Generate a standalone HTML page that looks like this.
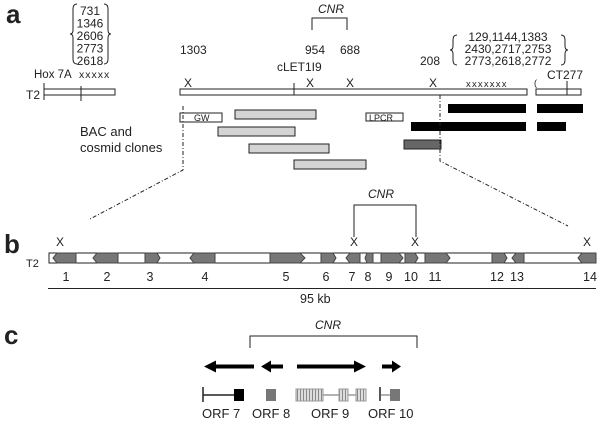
<!DOCTYPE html><html><head><style>body{margin:0;background:#fff}svg{display:block}text{font-family:"Liberation Sans",sans-serif;fill:#222}</style></head><body>
<svg width="600" height="425" viewBox="0 0 600 425" xmlns="http://www.w3.org/2000/svg">
<defs><pattern id="st" width="3" height="10" patternUnits="userSpaceOnUse"><rect width="3" height="10" fill="#ddd"/><rect width="1" height="10" fill="#888"/></pattern></defs>
<g stroke="#222" fill="none" stroke-width="1">
<text x="6" y="23" font-size="26" font-weight="bold" stroke="none">a</text>
<g stroke="none" font-size="12" text-anchor="middle"><text x="90" y="15">731</text><text x="90" y="27.5">1346</text><text x="90" y="40">2606</text><text x="90" y="52.5">2773</text><text x="90" y="65">2618</text></g>
<path d="M77 4 q-4 0 -4 5 v21 q0 4 -3 4 q3 0 3 4 v21 q0 5 4 5"/><path d="M104 4 q4 0 4 5 v21 q0 4 3 4 q-3 0 -3 4 v21 q0 5 -4 5"/>
<text x="34" y="78" font-size="11.5" stroke="none">Hox 7A</text><text x="79" y="78" font-size="10.5" stroke="none" letter-spacing="1">xxxxx</text>
<text x="26" y="99" font-size="12" stroke="none">T2</text>
<rect x="44" y="89" width="71" height="6"/><path d="M44 83v17M81 86v15"/>
<rect x="180" y="89" width="347" height="6"/><rect x="536" y="89" width="45" height="6"/>
<text x="180" y="54" font-size="12" stroke="none">1303</text><text x="184" y="87" font-size="12" stroke="none">X</text>
<text x="277" y="71" font-size="12" stroke="none">cLET1I9</text><path d="M294 83v12"/>
<text x="306" y="87" font-size="12" stroke="none">X</text><text x="346" y="87" font-size="12" stroke="none">X</text><text x="429" y="87" font-size="12" stroke="none">X</text>
<text x="305" y="54" font-size="12" stroke="none">954</text><text x="340" y="54" font-size="12" stroke="none">688</text>
<path d="M312 30v-12h35v12"/><text x="318" y="13" font-size="12" font-style="italic" stroke="none">CNR</text>
<text x="420" y="65" font-size="12" stroke="none">208</text>
<g stroke="none" font-size="12" text-anchor="middle"><text x="508" y="41">129,1144,1383</text><text x="508" y="53">2430,2717,2753</text><text x="508" y="65">2773,2618,2772</text></g>
<path d="M457 35 q-4 0 -4 5 v6 q0 4 -3 4 q3 0 3 4 v6 q0 5 4 5"/><path d="M561 35 q4 0 4 5 v6 q0 4 3 4 q-3 0 -3 4 v6 q0 5 -4 5"/>
<text x="466" y="87" font-size="9.5" stroke="none" letter-spacing="1.2">xxxxxxx</text><text x="534" y="86" font-size="9" stroke="none">(</text>
<text x="547" y="79" font-size="12" stroke="none">CT277</text><path d="M567 81v14"/>
<rect x="180" y="113" width="42" height="9"/><text x="194" y="121" font-size="9" stroke="none">GW</text>
<g fill="#d4d4d4"><rect x="235" y="110" width="81" height="9"/><rect x="218" y="127" width="77" height="9"/><rect x="249" y="144" width="80" height="9"/><rect x="294" y="160" width="72" height="9"/></g>
<rect x="366" y="113" width="37" height="8"/><text x="369" y="121" font-size="9" stroke="none">LPCR</text>
<g fill="#000" stroke="none"><rect x="448" y="104" width="78" height="9"/><rect x="537" y="104" width="46" height="9"/><rect x="411" y="122" width="115" height="9"/><rect x="537" y="122" width="29" height="9"/></g>
<rect x="404" y="140" width="37" height="9" fill="#666"/>
<text x="80" y="136" font-size="13" stroke="none">BAC and</text><text x="80" y="152" font-size="13" stroke="none">cosmid clones</text>
<path d="M183 106v64L90 219M440 95v66L568 226" stroke-dasharray="4,2,1,2"/>
<text x="4" y="253" font-size="26" font-weight="bold" stroke="none">b</text>
<text x="26" y="267" font-size="11" stroke="none">T2</text>
<rect x="49" y="253" width="547" height="10"/>
<g font-size="12" stroke="none"><text x="56" y="246">X</text><text x="350" y="246">X</text><text x="411" y="246">X</text><text x="583" y="246">X</text></g>
<path d="M354 237v-32h62v32"/><text x="368" y="198" font-size="12" font-style="italic" stroke="none">CNR</text>
<g fill="#777" stroke="#444">
<path d="M76 253v10H57l-4-5 4-5z"/><path d="M118 253v10H97l-4-5 4-5z"/><path d="M145 253h12l3 5-3 5h-12z"/><path d="M215 253v10H194l-4-5 4-5z"/>
<path d="M270 253h30l5 5-5 5h-30z"/><path d="M321 253h12l3 5-3 5h-12z"/><path d="M360 253v10h-10l-4-5 4-5z"/><path d="M373 253v10h-6l-2-5 2-5z"/>
<path d="M381 253h18l4 5-4 5h-18z"/><path d="M405 253h10l3 5-3 5h-10z"/><path d="M425 253h21l4 5-4 5h-21z"/><path d="M492 253h12l3 5-3 5h-12z"/><path d="M524 253v10h-8l-4-5 4-5z"/><path d="M596 253v10h-14l-4-5 4-5z"/>
</g>
<g font-size="12.5" stroke="none" text-anchor="middle"><text x="66" y="281">1</text><text x="107" y="281">2</text><text x="150" y="281">3</text><text x="205" y="281">4</text><text x="286" y="281">5</text><text x="326" y="281">6</text><text x="352" y="281">7</text><text x="368" y="281">8</text><text x="389" y="281">9</text><text x="411" y="281">10</text><text x="435" y="281">11</text><text x="497" y="281">12</text><text x="517" y="281">13</text><text x="590" y="281">14</text></g>
<path d="M48 288.5h548"/><text x="300" y="303" font-size="12.5" stroke="none">95 kb</text>
<text x="4" y="344" font-size="26" font-weight="bold" stroke="none">c</text>
<path d="M250 348v-12h167v12"/><text x="315" y="329" font-size="12" font-style="italic" stroke="none">CNR</text>
<g fill="#000" stroke="none">
<path d="M254 364.5h-38v-4l-12 6 12 6v-4h38z"/><path d="M283 364.5h-12v-4l-10 6 10 6v-4h12z"/>
<path d="M297 364.5h57v-4l12 6-12 6v-4h-57z"/><path d="M382 364.5h10v-4l9 6-9 6v-4h-10z"/>
</g>
<path d="M203 387v15M203 395h31" stroke-width="1.5"/><rect x="234" y="389" width="10" height="12" fill="#000" stroke="none"/>
<rect x="266" y="389" width="10" height="12" fill="#777" stroke="none"/>
<path d="M310 395h46" stroke="#666"/><rect x="296" y="389" width="27" height="12" fill="url(#st)" stroke="#999"/><rect x="339" y="389" width="9" height="12" fill="url(#st)" stroke="#999"/><rect x="356" y="389" width="10" height="12" fill="url(#st)" stroke="#999"/>
<path d="M380 387v14" stroke="#555" stroke-width="2"/><path d="M380 395h10" stroke="#666"/><rect x="390" y="389" width="10" height="12" fill="#777" stroke="none"/>
<g font-size="13" stroke="none"><text x="202" y="418">ORF 7</text><text x="252" y="418">ORF 8</text><text x="311" y="418">ORF 9</text><text x="368" y="418">ORF 10</text></g>
</g></svg></body></html>
